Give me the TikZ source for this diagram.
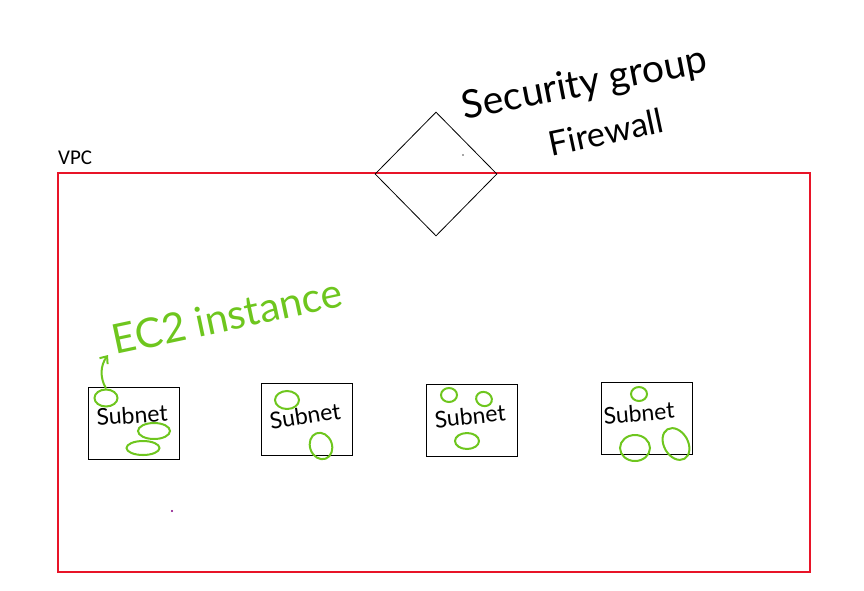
\documentclass[tikz,border=0pt]{standalone}
\usepackage{fontspec}
\setmainfont{Lato}
\newfontfamily\vpcfont{Carlito}
\usetikzlibrary{shapes.geometric,arrows.meta}
\definecolor{vpcred}{RGB}{232,20,40}
\definecolor{inkgreen}{RGB}{110,198,30}
\tikzset{
  subnetbox/.style={draw=black,line width=1pt,minimum width=91pt,minimum height=72pt,inner sep=0pt},
  subnettext/.style={font=\fontsize{23}{23}\selectfont,inner sep=0pt},
  blob/.style={ellipse,draw=inkgreen,line width=2pt,inner sep=0pt},
  hand/.style={inner sep=0pt}
}
\begin{document}
\begin{tikzpicture}[x=1pt,y=-1pt]
\useasboundingbox (0,0) rectangle (864,590);
% VPC
\node[draw=vpcred,line width=2pt,minimum width=752pt,minimum height=399pt,inner sep=0pt] (vpc) at (434,372.5) {};
\node[anchor=base west,inner sep=0pt,font=\vpcfont\fontsize{21}{21}\selectfont] (vpclabel) at (58,164) {VPC};
% firewall diamond
\node[diamond,draw=black,line width=0.8pt,minimum width=122pt,minimum height=124pt,inner sep=0pt] (fw) at (436,174) {};
\node[hand,rotate=11,font=\fontsize{39}{39}\selectfont] (sg) at (585,85) {Security group};
\node[hand,rotate=12,font=\fontsize{34}{34}\selectfont] (fwl) at (606,132) {Firewall};
\fill[black!70] (463,155) circle (0.8pt);
% subnets
\node[subnetbox] (s1) at (133.5,423) {};
\node[subnetbox] (s2) at (306.5,419.5) {};
\node[subnetbox] (s3) at (471.5,420.5) {};
\node[subnetbox] (s4) at (646.5,418.5) {};
\node[subnettext,rotate=4] (t1) at (132,415) {Subnet};
\node[subnettext,rotate=9] (t2) at (305,416) {Subnet};
\node[subnettext,rotate=6] (t3) at (470,416) {Subnet};
\node[subnettext,rotate=5] (t4) at (639,413) {Subnet};
% green blobs
\node[blob,minimum width=23pt,minimum height=17pt] (b11) at (106,398) {};
\node[blob,minimum width=32pt,minimum height=16pt] (b12) at (154,431) {};
\node[blob,minimum width=33pt,minimum height=14pt] (b13) at (143,448) {};
\node[blob,minimum width=24pt,minimum height=18pt] (b21) at (287,400) {};
\node[blob,minimum width=22pt,minimum height=27pt,rotate=20] (b22) at (321,446) {};
\node[blob,minimum width=16pt,minimum height=14pt] (b31) at (449,395) {};
\node[blob,minimum width=16pt,minimum height=14pt,rotate=-20] (b32) at (484,399) {};
\node[blob,minimum width=24pt,minimum height=16pt] (b33) at (467,441) {};
\node[blob,minimum width=16pt,minimum height=14pt] (b41) at (639,394) {};
\node[blob,minimum width=30pt,minimum height=26pt] (b42) at (635,448) {};
\node[blob,minimum width=24pt,minimum height=34pt,rotate=30] (b43) at (676,444) {};
% EC2 label and arrow
\node[hand,rotate=12,text=inkgreen,font=\fontsize{41}{41}\selectfont] (ec2) at (227,316) {EC2 instance};
\coordinate (ec2tip) at (108,355);
\draw[inkgreen,line width=2pt,-{Straight Barb[length=6pt,width=10pt]}] (b11.north) .. controls (100,378) and (100,366) .. (ec2tip);
\fill[violet] (172,511) circle (1.2pt);
\end{tikzpicture}
\end{document}
